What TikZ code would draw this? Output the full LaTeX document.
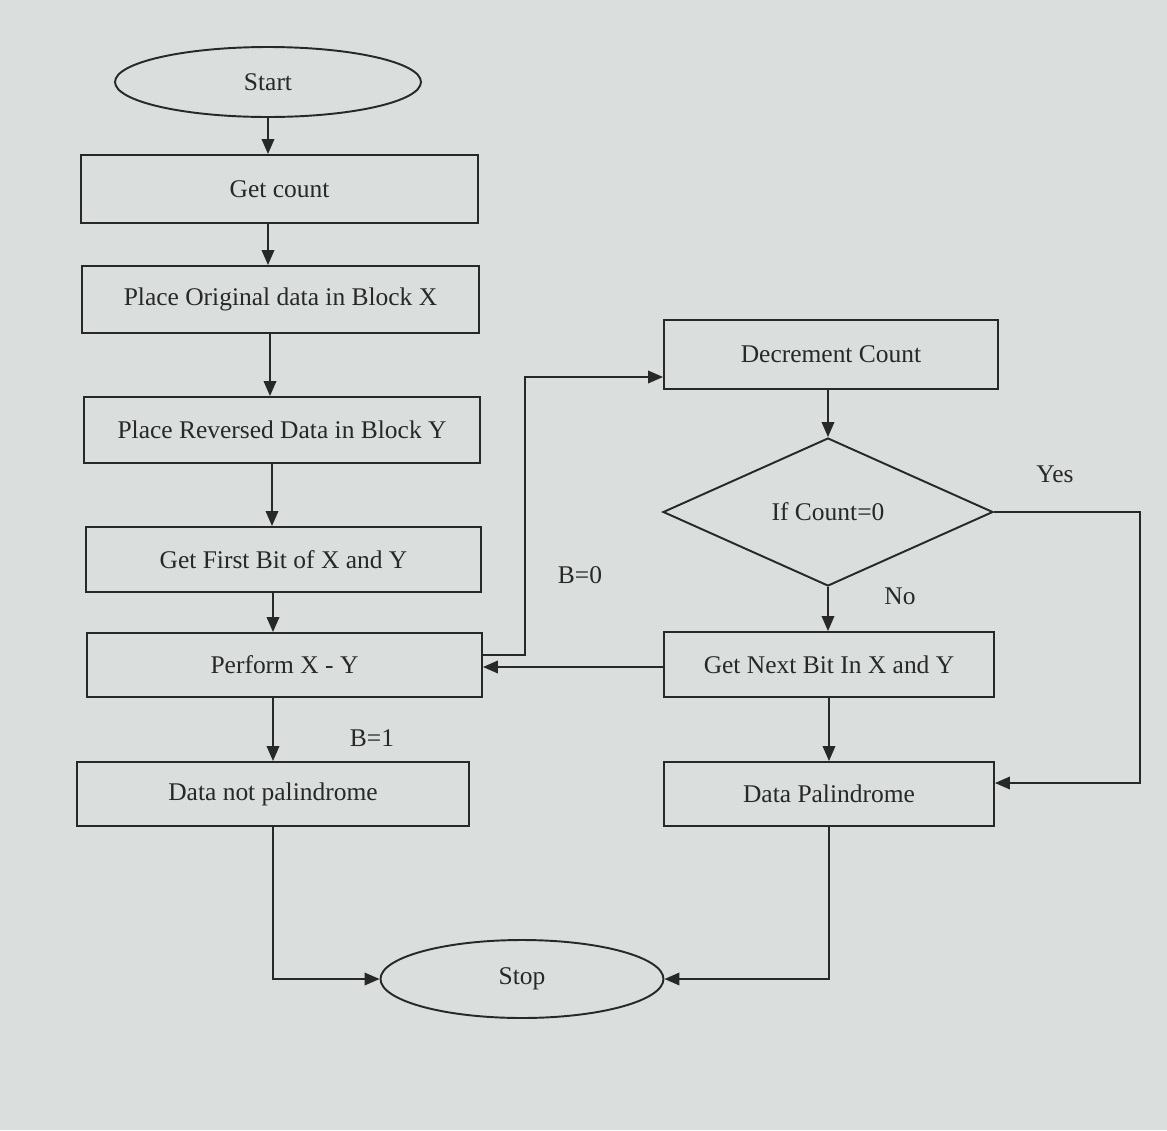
\documentclass[tikz,border=0pt]{standalone}
\usepackage{fontspec}
\setmainfont{Liberation Serif}
\usetikzlibrary{shapes.geometric,arrows.meta}
\definecolor{bg}{RGB}{218,222,221}
\definecolor{ink}{RGB}{40,40,40}
\begin{document}
\begin{tikzpicture}[x=0.02cm,y=-0.02cm,
  every node/.style={font=\fontsize{14.5}{16}\selectfont, text=ink},
  box/.style={draw=ink, line width=1.1pt, rectangle, inner sep=0pt},
  oval/.style={draw=ink, line width=1.1pt, ellipse, inner sep=0pt},
  dec/.style={draw=ink, line width=1.1pt, diamond, inner sep=0pt},
  arr/.style={draw=ink, line width=1.1pt, -{Triangle[length=0.3cm,width=0.25cm]}},
  lbl/.style={inner sep=0pt}]
\fill[bg] (0,0) rectangle (1167,1130);
\useasboundingbox (0,0) rectangle (1167,1130);
% left column
\node[oval, minimum width=6.12cm, minimum height=1.4cm] (start) at (268,82) {Start};
\node[box, minimum width=7.94cm, minimum height=1.36cm] (getcount) at (279.5,189) {Get count};
\node[box, minimum width=7.94cm, minimum height=1.34cm] (placex) at (280.5,299.5) {Place Original data in Block X};
\node[box, minimum width=7.92cm, minimum height=1.32cm] (placey) at (282,430) {Place Reversed Data in Block Y};
\node[box, minimum width=7.9cm, minimum height=1.3cm] (first) at (283.5,559.5) {Get First Bit of X and Y};
\node[box, minimum width=7.9cm, minimum height=1.28cm] (perform) at (284.5,665) {Perform X - Y};
\node[box, minimum width=7.84cm, minimum height=1.28cm] (notpal) at (273,794) {Data not palindrome};
% right column
\node[box, minimum width=6.68cm, minimum height=1.38cm] (decr) at (831,354.5) {Decrement Count};
\node[dec, minimum width=6.6cm, minimum height=2.96cm] (ifc) at (828,512) {If Count=0};
\node[box, minimum width=6.6cm, minimum height=1.3cm] (next) at (829,664.5) {Get Next Bit In X and Y};
\node[box, minimum width=6.6cm, minimum height=1.28cm] (pal) at (829,794) {Data Palindrome};
\node[oval, minimum width=5.66cm, minimum height=1.56cm] (stop) at (522,979) {Stop};
% helper coordinates
\coordinate (bturn) at (525,377);
\coordinate (yturn) at (1140,512);
% connectors
\draw[arr] (start) -- (start |- getcount.north);
\draw[arr] ([xshift=-0.23cm]getcount.south) -- ([xshift=-0.23cm]getcount.south |- placex.north);
\draw[arr] ([xshift=-0.21cm]placex.south) -- ([xshift=-0.21cm]placex.south |- placey.north);
\draw[arr] ([xshift=-0.2cm]placey.south) -- ([xshift=-0.2cm]placey.south |- first.north);
\draw[arr] ([xshift=-0.21cm]first.south) -- ([xshift=-0.21cm]first.south |- perform.north);
\draw[arr] ([xshift=-0.23cm]perform.south) -- ([xshift=-0.23cm]perform.south |- notpal.north);
\draw[arr] ([yshift=0.2cm]perform.east) -| (bturn) -- (bturn -| decr.west);
\draw[arr] (ifc.north |- decr.south) -- (ifc.north);
\draw[arr] (ifc.south) -- (ifc.south |- next.north);
\draw[arr] (ifc.east) -- (yturn) |- ([yshift=0.22cm]pal.east);
\draw[arr] ([yshift=-0.05cm]next.west) -- ([yshift=-0.05cm]next.west -| perform.east);
\draw[arr] (next.south) -- (pal.north);
\draw[arr] (notpal.south) |- (stop.west);
\draw[arr] (pal.south) |- (stop.east);
% labels
\node[lbl] (lb0) at (580,575) {B=0};
\node[lbl] (lb1) at (372,738) {B=1};
\node[lbl] (lyes) at (1055,474) {Yes};
\node[lbl] (lno) at (900,596) {No};
\end{tikzpicture}
\end{document}
